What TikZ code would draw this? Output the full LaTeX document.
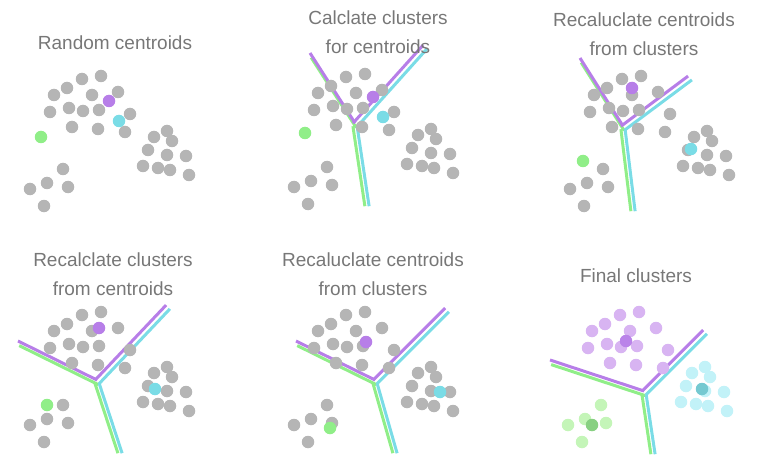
\documentclass[tikz,border=0pt]{standalone}
\usepackage{fontspec}
\usetikzlibrary{calc}
\setmainfont{Liberation Sans}
\definecolor{gp}{HTML}{B5B5B5}
\definecolor{pu}{HTML}{B77EE8}
\definecolor{cy}{HTML}{7ADCE6}
\definecolor{gr}{HTML}{90EE88}
\definecolor{lpu}{HTML}{D8B4F2}
\definecolor{lcy}{HTML}{C2F2F8}
\definecolor{lgr}{HTML}{C4F5B8}
\definecolor{tt}{HTML}{777777}
\tikzset{
 dot/.style={circle,inner sep=0pt,minimum size=12.5pt,fill=#1},
 ttl/.style={text=tt,font=\fontsize{19pt}{29pt}\selectfont,align=center},
 bl/.style={line width=3pt,draw=#1}
}
\def\pts{101/76,82/79,67/88,54/95,92/95,118/92,50/112,69/108,83/111,99/110,130/114,72/127,98/129,125/132,167/131,154/137,172/141,148/150,167/155,186/156,143/166,158/168,170/170,189/175,63/169,47/183,68/187,30/189,44/206}
\newcommand{\grey}{\foreach \x/\y [count=\k] in \pts {\node[dot=gp] (d\k) at (\x,\y) {};}}
\newcommand{\cents}[6]{\node[dot=pu] (cp) at (#1,#2) {};\node[dot=cy] (cc) at (#3,#4) {};\node[dot=gr] (cg) at (#5,#6) {};}
% junction, left end, upper-right end, down end
\newcommand{\bound}[8]{%
 \coordinate (J) at (#1,#2); \coordinate (L) at (#3,#4); \coordinate (U) at (#5,#6); \coordinate (D) at (#7,#8);
 \draw[bl=gr] ($(L)+(1.2,2.6)$) -- ($(J)+(1.2,2.6)$);
 \draw[bl=pu] ($(L)+(0,-2)$) -- ($(J)+(0,-2)$);
 \draw[bl=pu] ($(J)+(-1.9,-1.9)$) -- ($(U)+(-1.9,-1.9)$);
 \draw[bl=cy] ($(J)+(1.9,1.9)$) -- ($(U)+(1.9,1.9)$);
 \draw[bl=gr] ($(J)+(-2.1,1.2)$) -- ($(D)+(-2.1,1.2)$);
 \draw[bl=cy] ($(J)+(2.1,1.2)$) -- ($(D)+(2.1,1.2)$);}
\begin{document}
\begin{tikzpicture}[x=1pt,y=-1pt]
\useasboundingbox (0,0) rectangle (766,476);
% panel 1
\begin{scope}
\grey \cents{109}{101}{119}{121}{41}{137}
\node[ttl] (t1) at (115,43) {Random centroids};
\end{scope}
% panel 2
\begin{scope}[shift={(264,-2)}]
\bound{91}{127}{46}{57}{161}{49}{103}{207}
\grey \cents{109}{99}{119}{119}{41}{135}
\end{scope}
\node[ttl] (t2) at (378,32) {Calclate clusters\\for centroids};
% panel 3
\begin{scope}[shift={(540,0)}]
\bound{83}{128}{40}{60}{150}{78}{93}{210}
\grey \cents{92}{88}{151}{149}{43}{161}
\end{scope}
\node[ttl] (t3) at (644,34) {Recaluclate centroids\\from clusters};
% panel 4
\begin{scope}[shift={(0,236)}]
\bound{97}{146}{18}{107}{168}{71}{120}{216}
\grey \cents{99}{92}{155}{153}{47}{169}
\end{scope}
\node[ttl] (t4) at (113,274) {Recalclate clusters\\from centroids};
% panel 5
\begin{scope}[shift={(264,236)}]
\bound{111}{146}{32}{107}{183}{74}{131}{216}
\grey \cents{102}{106}{176}{156}{66}{192}
\end{scope}
\node[ttl] (t5) at (373,274) {Recaluclate centroids\\from clusters};
% panel 6
\begin{scope}[shift={(538,236)}]
\bound{106}{157}{12}{126}{167}{96}{115}{217}
\foreach \x/\y [count=\k] in \pts {
 \ifnum\k<15 \node[dot=lpu] (f\k) at (\x,\y) {};
 \else\ifnum\k<25 \node[dot=lcy] (f\k) at (\x,\y) {};
 \else \node[dot=lgr] (f\k) at (\x,\y) {};\fi\fi}
\node[dot=pu!90!lpu] (fp) at (88,105) {};
\node[dot=cy!90!black!95] (fc) at (164,153) {};
\node[dot=gr!85!black!90] (fg) at (54,189) {};
\end{scope}
\node[ttl] (t6) at (636,276) {Final clusters};
\end{tikzpicture}
\end{document}
